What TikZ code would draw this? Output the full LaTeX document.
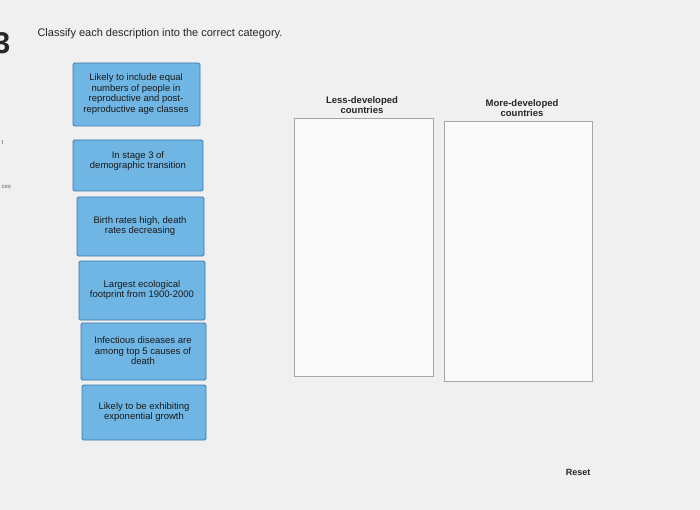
\documentclass[tikz,border=0pt]{standalone}
\usepackage{fontspec}
\setmainfont{Liberation Sans}
\definecolor{cardfill}{RGB}{112,182,228}
\definecolor{carddraw}{RGB}{60,120,170}
\begin{document}
\begin{tikzpicture}[x=1pt,y=-1pt,
  card/.style={draw=carddraw, fill=cardfill, line width=0.8pt, rounded corners=1.5pt},
  cardtext/.style={align=center, font=\fontsize{9.5}{10.5}\selectfont, text=black!90},
  drop/.style={draw=black!35, fill=white!96!gray, line width=0.8pt},
  head/.style={align=center, font=\bfseries\fontsize{9.5}{10}\selectfont, text=black!85}]
\useasboundingbox[fill=black!6] (0,0) rectangle (700,510);
\node[anchor=west, font=\bfseries\fontsize{30}{30}\selectfont, text=black!85] (three) at (-10,43) {3};
\node[anchor=west, font=\fontsize{11}{12}\selectfont, text=black!85] (title) at (34,34) {Classify each description into the correct category.};
\node[anchor=west, font=\fontsize{6}{7}\selectfont, text=black!60] (tt) at (-2,143) {t};
\node[anchor=west, font=\fontsize{6}{7}\selectfont, text=black!60] (ces) at (-2,187) {ces};
\draw[card] (73,63) rectangle (200,126);
\node[cardtext] (c1) at (136,94) {Likely to include equal\\numbers of people in\\reproductive and post-\\reproductive age classes};
\draw[card] (73,140) rectangle (203,191);
\node[cardtext] (c2) at (138,161) {In stage 3 of\\demographic transition};
\draw[card] (77,197) rectangle (204,256);
\node[cardtext] (c3) at (140,226) {Birth rates high, death\\rates decreasing};
\draw[card] (79,261) rectangle (205,320);
\node[cardtext] (c4) at (142,290) {Largest ecological\\footprint from 1900-2000};
\draw[card] (81,323) rectangle (206,380);
\node[cardtext] (c5) at (143,351) {Infectious diseases are\\among top 5 causes of\\death};
\draw[card] (82,385) rectangle (206,440);
\node[cardtext] (c6) at (144,412) {Likely to be exhibiting\\exponential growth};
\node[head] (h1) at (362,105) {Less-developed\\countries};
\node[head] (h2) at (522,108) {More-developed\\countries};
\draw[drop] (294,118) rectangle (433,376);
\draw[drop] (444,121) rectangle (592,381);
\node[font=\bfseries\fontsize{9}{10}\selectfont, text=black!85] (reset) at (578,472) {Reset};
\end{tikzpicture}
\end{document}
